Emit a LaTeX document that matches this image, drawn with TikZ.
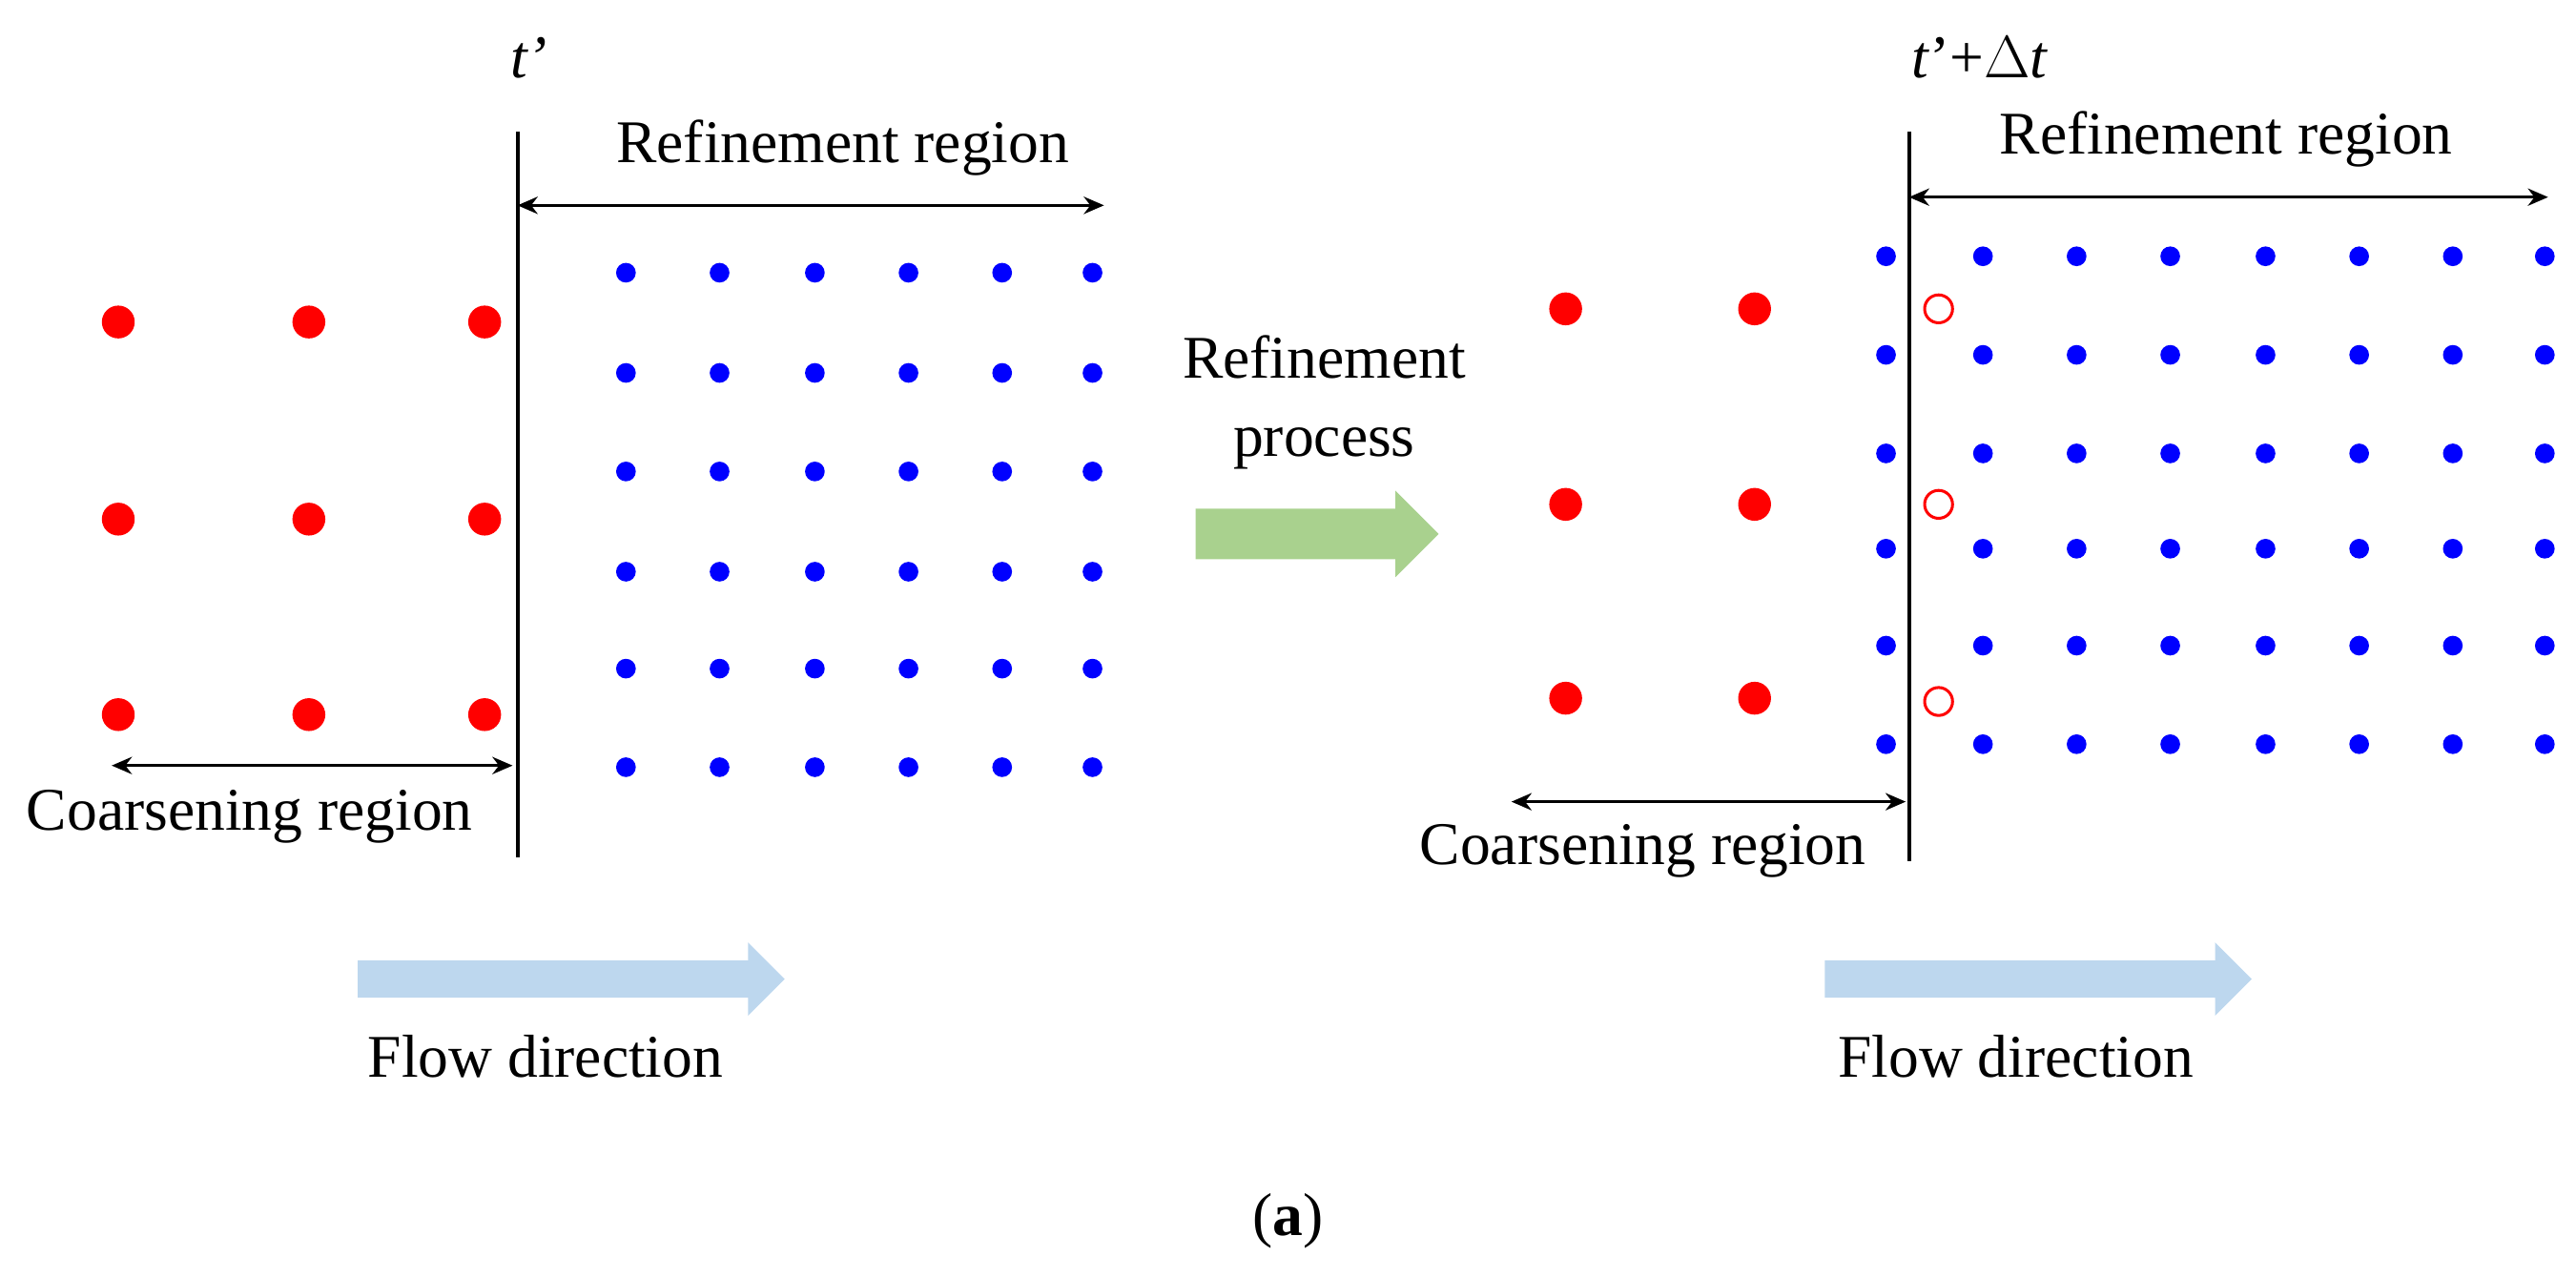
\documentclass[tikz,border=0pt]{standalone}
\usepackage{fontspec}
\setmainfont{Liberation Serif}
\usetikzlibrary{arrows.meta,shapes.arrows}
\begin{document}
\begin{tikzpicture}[x=0.02cm,y=-0.02cm,
  lbl/.style={font=\fontsize{21}{25}\selectfont, inner sep=0pt},
  rd/.style={circle,fill=red,inner sep=0pt,minimum size=0.4cm},
  bd/.style={circle,fill=blue,inner sep=0pt,minimum size=0.24cm},
  hd/.style={circle,draw=red,line width=1pt,fill=white,inner sep=0pt,minimum size=0.34cm},
  dim/.style={{Stealth[length=7pt,width=6pt]}-{Stealth[length=7pt,width=6pt]},line width=1pt},
  wall/.style={line width=1.4pt},
  flow/.style={single arrow,draw=none,minimum height=5.2cm,single arrow head extend=0.22cm,inner sep=0pt,fill={rgb,255:red,189;green,215;blue,238}},
]
\useasboundingbox (0,0) rectangle (1568,777);
% left panel
\node[lbl,font=\fontsize{21}{25}\selectfont\itshape] (tl) at (322,35) {t’};
\coordinate (wl1) at (315,80); \coordinate (wl2) at (315,522);
\draw[wall] (wl1) -- (wl2);
\foreach \x [count=\i] in {72,188,295}{\foreach \y [count=\j] in {196,316,435}{\node[rd] (lr\i\j) at (\x,\y) {};}}
\foreach \x [count=\i] in {381,438,496,553,610,665}{\foreach \y [count=\j] in {166,227,287,348,407,467}{\node[bd] (lb\i\j) at (\x,\y) {};}}
\coordinate (lra) at (315,125); \coordinate (lrb) at (672,125);
\draw[dim] (lra) -- (lrb);
\node[lbl] (lrt) at (513,90) {Refinement region};
\coordinate (lca) at (68,466); \coordinate (lcb) at (312,466);
\draw[dim] (lca) -- (lcb);
\node[lbl] (lct) at (152,497) {Coarsening region};
\node[flow] (lf) at (342,596) {\rule{0pt}{0.44cm}};
\node[lbl] (lft) at (332,643) {Flow direction};
% middle
\node[single arrow,draw=none,fill={rgb,255:red,169;green,209;blue,142},minimum height=2.96cm,single arrow head extend=0.22cm,inner sep=0pt] (ga) at (794,325) {\rule{0pt}{0.6cm}};
\node[lbl,align=center,font=\fontsize{21}{27}\selectfont] (gt) at (806,245) {Refinement\\process};
% right panel
\node[lbl] (tr) at (1205,35) {\textit{t}’+$\Delta$\textit{t}};
\coordinate (wr1) at (1162,80); \coordinate (wr2) at (1162,524);
\draw[wall] (wr1) -- (wr2);
\foreach \x [count=\i] in {953,1068}{\foreach \y [count=\j] in {188,307,425}{\node[rd] (rr\i\j) at (\x,\y) {};}}
\foreach \x [count=\i] in {1148,1207,1264,1321,1379,1436,1493,1549}{\foreach \y [count=\j] in {156,216,276,334,393,453}{\node[bd] (rb\i\j) at (\x,\y) {};}}
\foreach \y [count=\j] in {188,307,427}{\node[hd] (rh\j) at (1180,\y) {};}
\coordinate (rra) at (1162,120); \coordinate (rrb) at (1551,120);
\draw[dim] (rra) -- (rrb);
\node[lbl] (rrt) at (1355,85) {Refinement region};
\coordinate (rca) at (920,488); \coordinate (rcb) at (1160,488);
\draw[dim] (rca) -- (rcb);
\node[lbl] (rct) at (1000,518) {Coarsening region};
\node[flow] (rf) at (1235,596) {\rule{0pt}{0.44cm}};
\node[lbl] (rft) at (1227,643) {Flow direction};
\node[lbl] (cap) at (784,743) {(\textbf{a})};
\end{tikzpicture}
\end{document}
